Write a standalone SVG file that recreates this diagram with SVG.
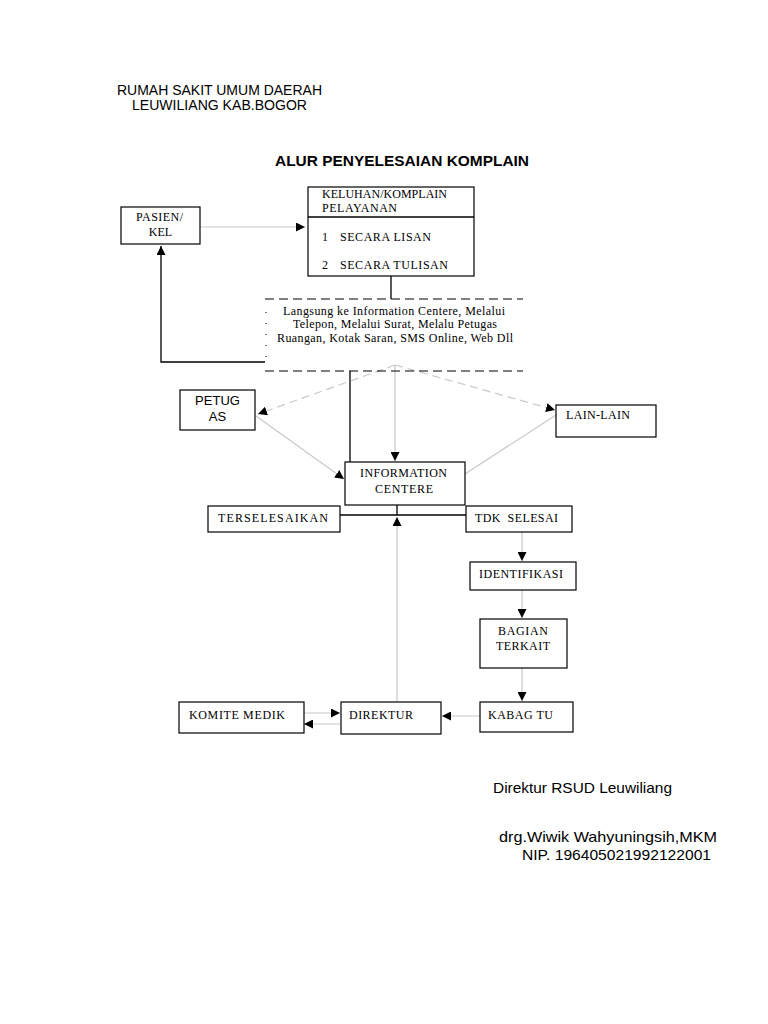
<svg xmlns="http://www.w3.org/2000/svg" width="768" height="1024" viewBox="0 0 768 1024">
<style>
.box{fill:#fff;stroke:#000;stroke-width:1.2}
.s{font-family:"Liberation Serif",serif;font-size:12px;fill:#000}
.a{font-family:"Liberation Sans",Arial,sans-serif;fill:#000}
.g{stroke:#c8c8c8;stroke-width:1.2;fill:none}
.k{stroke:#000;stroke-width:1.3;fill:none}
.gd{stroke:#c8c8c8;stroke-width:1.2;fill:none;stroke-dasharray:8 5}
.dash{stroke:#000;stroke-width:1.2;stroke-dasharray:9 5}
</style>
<defs>
<marker id="ah" viewBox="0 0 10 10" refX="10" refY="5" markerWidth="9" markerHeight="9" markerUnits="userSpaceOnUse" orient="auto"><path d="M0,0 L10,5 L0,10 Z" fill="#000"/></marker>
</defs>
<rect width="768" height="1024" fill="#fff"/>
<text class="a" x="117" y="95" font-size="14" textLength="205" lengthAdjust="spacingAndGlyphs">RUMAH SAKIT UMUM DAERAH</text>
<text class="a" x="132" y="110" font-size="14" textLength="175" lengthAdjust="spacingAndGlyphs">LEUWILIANG KAB.BOGOR</text>
<text class="a" x="275" y="166" font-size="15" font-weight="bold" textLength="254" lengthAdjust="spacingAndGlyphs">ALUR PENYELESAIAN KOMPLAIN</text>

<g id="connectors">
<line class="g" x1="200" y1="227" x2="305" y2="227" marker-end="url(#ah)"/>
<line class="k" x1="391" y1="276" x2="391" y2="299"/>
<polyline class="k" points="265,362 161,362 161,246" marker-end="url(#ah)"/>
<line class="k" x1="350" y1="371" x2="350" y2="462"/>
<line class="g" x1="395" y1="365" x2="395" y2="461" marker-end="url(#ah)"/>
<line class="gd" x1="395" y1="365" x2="258" y2="414" marker-end="url(#ah)"/>
<line class="gd" x1="395" y1="365" x2="555" y2="410" marker-end="url(#ah)"/>
<line class="g" x1="256" y1="416" x2="344" y2="479" marker-end="url(#ah)"/>
<line class="g" x1="465" y1="474" x2="556" y2="415"/>
<line class="k" x1="340" y1="515" x2="466" y2="515"/>
<line class="k" x1="397" y1="505" x2="397" y2="515"/>
<line class="g" x1="397" y1="702" x2="397" y2="517" marker-end="url(#ah)"/>
<line class="g" x1="522" y1="532" x2="522" y2="561" marker-end="url(#ah)"/>
<line class="g" x1="522" y1="590" x2="522" y2="618" marker-end="url(#ah)"/>
<line class="g" x1="522" y1="668" x2="522" y2="701" marker-end="url(#ah)"/>
<line class="g" x1="480" y1="716" x2="442" y2="716" marker-end="url(#ah)"/>
<line class="g" x1="304" y1="713" x2="340" y2="713" marker-end="url(#ah)"/>
<line class="g" x1="340" y1="724" x2="304" y2="724" marker-end="url(#ah)"/>
</g>

<g id="pasien">
<rect class="box" x="121" y="207" width="79" height="37"/>
<text class="s" x="136" y="221" textLength="47">PASIEN/</text>
<text class="s" x="160.5" y="236" text-anchor="middle">KEL</text>
</g>

<g id="keluhan">
<rect class="box" x="308" y="187" width="166" height="89"/>
<line class="k" x1="308" y1="217" x2="474" y2="217" stroke-width="1.2"/>
<text class="s" x="322" y="198" textLength="125">KELUHAN/KOMPLAIN</text>
<text class="s" x="322" y="212" textLength="75">PELAYANAN</text>
<text class="s" x="322" y="241">1</text>
<text class="s" x="340" y="241" textLength="91">SECARA LISAN</text>
<text class="s" x="322" y="269">2</text>
<text class="s" x="340" y="269" textLength="108">SECARA TULISAN</text>
</g>

<g id="saluran">
<line class="dash" x1="265" y1="299" x2="523" y2="299"/>
<line class="dash" x1="265" y1="371" x2="523" y2="371"/>
<line x1="266" y1="312" x2="266" y2="365" stroke="#000" stroke-width="1" stroke-dasharray="1 10"/>
<text class="s" x="283" y="315" textLength="222">Langsung ke Information Centere, Melalui</text>
<text class="s" x="293" y="328" textLength="204">Telepon, Melalui Surat, Melalu Petugas</text>
<text class="s" x="277" y="342" textLength="236">Ruangan, Kotak Saran, SMS Online, Web Dll</text>
</g>

<g id="petugas">
<rect class="box" x="180" y="390" width="75" height="40"/>
<text class="a" x="217.5" y="405" font-size="13" text-anchor="middle">PETUG</text>
<text class="a" x="217.5" y="421" font-size="13" text-anchor="middle">AS</text>
</g>

<g id="lainlain">
<rect class="box" x="556" y="405" width="100" height="32"/>
<text class="s" x="566" y="419" textLength="64">LAIN-LAIN</text>
</g>

<g id="information">
<rect class="box" x="345" y="462" width="120" height="43"/>
<text class="s" x="360" y="477" textLength="87">INFORMATION</text>
<text class="s" x="375" y="493" textLength="58">CENTERE</text>
</g>

<g id="terselesaikan">
<rect class="box" x="208" y="506" width="132" height="26"/>
<text class="s" x="218" y="522" textLength="110">TERSELESAIKAN</text>
</g>

<g id="tdkselesai">
<rect class="box" x="466" y="506" width="106" height="26"/>
<text class="s" x="475" y="522" xml:space="preserve" textLength="83">TDK  SELESAI</text>
</g>

<g id="identifikasi">
<rect class="box" x="470" y="562" width="106" height="28"/>
<text class="s" x="479" y="578" textLength="84">IDENTIFIKASI</text>
</g>

<g id="bagian">
<rect class="box" x="480" y="619" width="87" height="49"/>
<text class="s" x="498" y="635" textLength="50">BAGIAN</text>
<text class="s" x="496" y="650" textLength="54">TERKAIT</text>
</g>

<g id="kabag">
<rect class="box" x="480" y="702" width="93" height="30"/>
<text class="s" x="488" y="719" textLength="65">KABAG TU</text>
</g>

<g id="direktur">
<rect class="box" x="341" y="702" width="100" height="32"/>
<text class="s" x="349" y="719" textLength="64">DIREKTUR</text>
</g>

<g id="komite">
<rect class="box" x="179" y="702" width="125" height="31"/>
<text class="s" x="189" y="719" textLength="96">KOMITE MEDIK</text>
</g>

<text class="a" x="493" y="793" font-size="14.5" textLength="179" lengthAdjust="spacingAndGlyphs">Direktur RSUD Leuwiliang</text>
<text class="a" x="499" y="842" font-size="14.5" textLength="218" lengthAdjust="spacingAndGlyphs">drg.Wiwik Wahyuningsih,MKM</text>
<text class="a" x="522" y="860" font-size="14.5" textLength="189" lengthAdjust="spacingAndGlyphs">NIP. 196405021992122001</text>
</svg>
